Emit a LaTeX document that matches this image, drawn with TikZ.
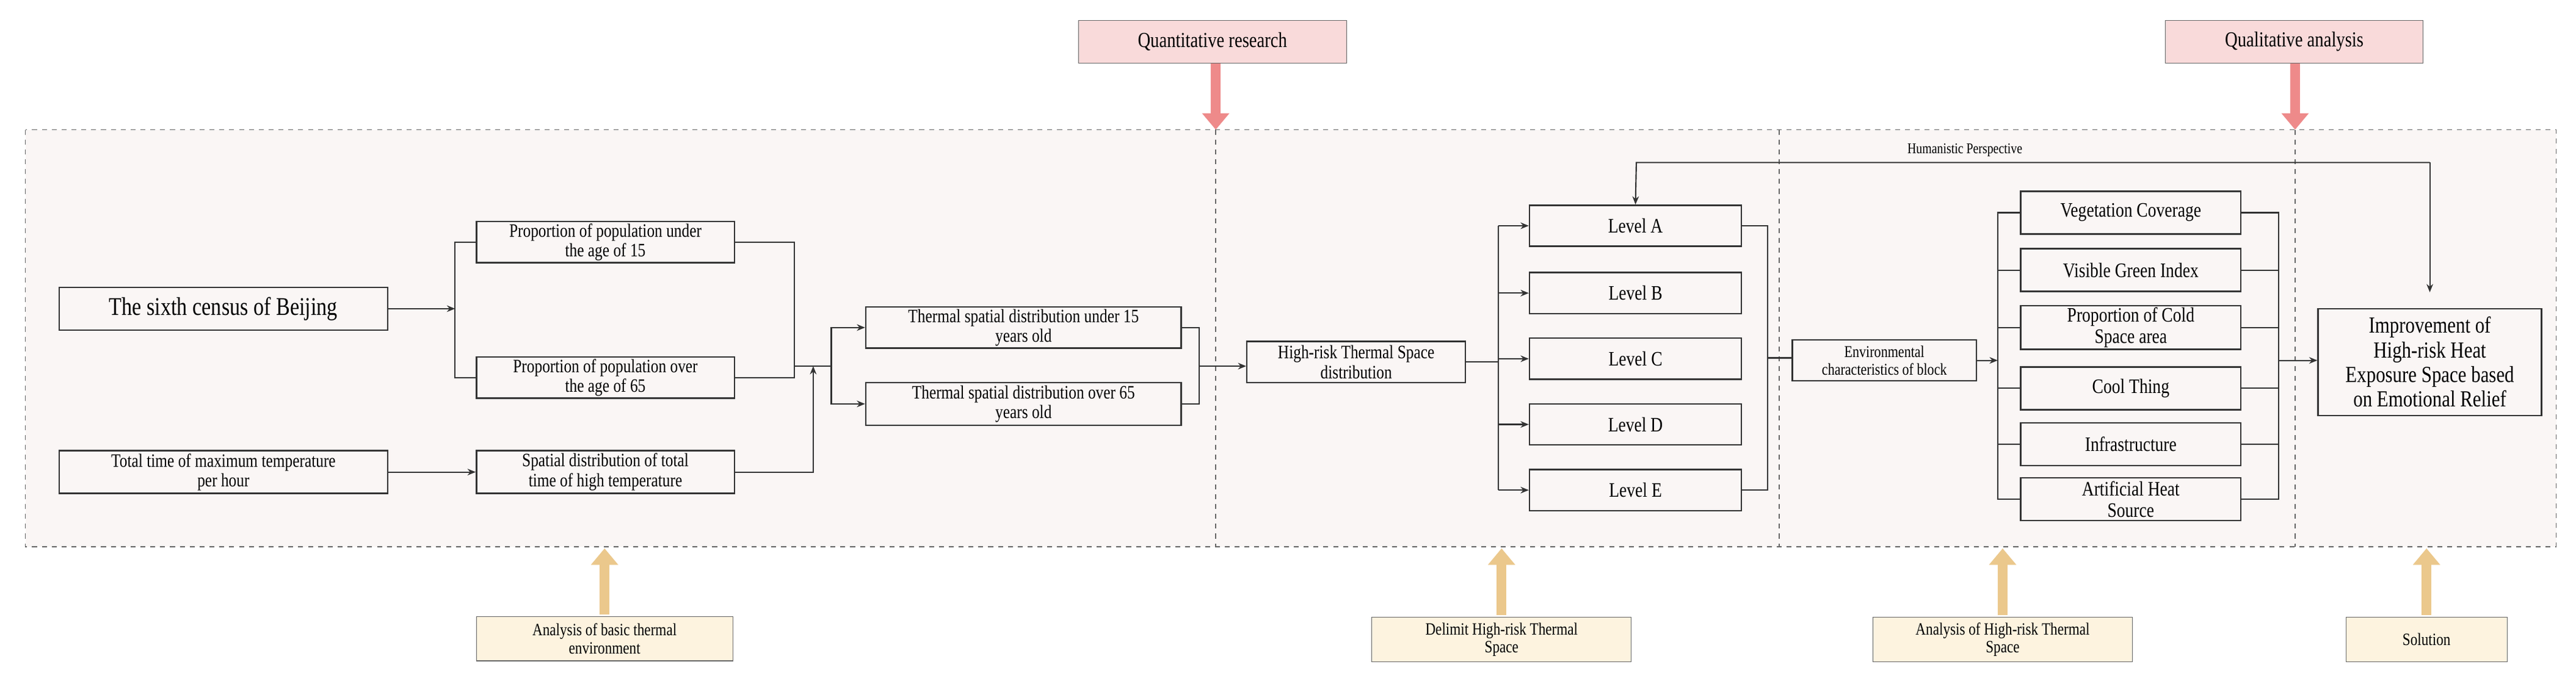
\documentclass[tikz,border=0pt]{standalone}
\usepackage{fontspec}
\setmainfont{Liberation Serif}[FakeStretch=0.82]
\usetikzlibrary{arrows.meta}
\definecolor{bgp}{HTML}{FAF6F5}
\definecolor{pinkf}{HTML}{F9DADA}
\definecolor{pinka}{HTML}{EE8A8A}
\definecolor{creamf}{HTML}{FDF3DF}
\definecolor{yella}{HTML}{EBC88C}
\begin{document}
\begin{tikzpicture}[x=1pt,y=-1pt,
  box/.style={draw=black!80,line width=0.9pt,fill=bgp,align=center,inner sep=1pt,font=\fontsize{11.5}{12}\selectfont},
  ln/.style={draw=black!80,line width=0.8pt},
  arr/.style={ln,-{Stealth[length=5pt,width=4pt]}},
  top/.style={draw=black!60,fill=pinkf,font=\fontsize{13}{14}\selectfont,inner sep=0pt},
  bot/.style={draw=black!60,fill=creamf,font=\fontsize{10.5}{11}\selectfont,align=center,inner sep=0pt},
  pa/.style={line width=6pt,draw=pinka,-{Triangle[length=10pt,width=16pt]}},
  ya/.style={line width=6pt,draw=yella,-{Triangle[length=10pt,width=16pt]}},
  dsh/.style={draw=black!60,dashed,line width=0.5pt}]
\useasboundingbox (0,0) rectangle (1568,414.4);
\fill[white] (0,0) rectangle (1568,414.4);
% outer frame
\fill[bgp] (15.5,79) rectangle (1556,333);
\draw[dsh] (15.5,79) rectangle (1556,333);
\foreach \x in {740,1083,1397} \draw[dsh] (\x,79) -- (\x,333);
% top boxes
\node[top,minimum width=163pt,minimum height=26pt] (qr) at (738,25.5) {Quantitative research};
\node[top,minimum width=157pt,minimum height=26pt] (qa) at (1396.5,25.5) {Qualitative analysis};
\coordinate (qrt) at (740,79);
\coordinate (qat) at (1397,79);
\draw[pa] (740,38.5) -- (qrt);
\draw[pa] (1397,38.5) -- (qat);
% bottom boxes
\node[bot,minimum width=156pt,minimum height=27pt] (b1) at (368,389) {Analysis of basic thermal\\environment};
\node[bot,minimum width=158pt,minimum height=27pt] (b2) at (914,389.5) {Delimit High-risk Thermal\\Space};
\node[bot,minimum width=158pt,minimum height=27pt] (b3) at (1219,389.5) {Analysis of High-risk Thermal\\Space};
\node[bot,minimum width=98pt,minimum height=27pt] (b4) at (1477,389.5) {Solution};
\draw[ya] (b1.north) ++(0,-1) -- (368,334);
\draw[ya] (b2.north) ++(0,-1) -- (914,334);
\draw[ya] (b3.north) ++(0,-1) -- (1219,334);
\draw[ya] (b4.north) ++(0,-1) -- (1477,334);
% left group
\node[box,minimum width=200pt,minimum height=26pt,font=\fontsize{15.5}{16}\selectfont] (cen) at (136,188) {The sixth census of Beijing};
\node[box,minimum width=200pt,minimum height=26pt] (tot) at (136,287.5) {Total time of maximum temperature\\per hour};
\node[box,minimum width=157pt,minimum height=25pt] (pu) at (368.5,147.5) {Proportion of population under\\the age of 15};
\node[box,minimum width=157pt,minimum height=25pt] (po) at (368.5,230) {Proportion of population over\\the age of 65};
\node[box,minimum width=157pt,minimum height=26pt] (sd) at (368.5,287.5) {Spatial distribution of total\\time of high temperature};
\node[box,minimum width=192pt,minimum height=25pt] (tu) at (623,199.5) {Thermal spatial distribution under 15\\years old};
\node[box,minimum width=192pt,minimum height=26pt] (to) at (623,246) {Thermal spatial distribution over 65\\years old};
\coordinate (j1) at (277,188);
\draw[arr] (cen.east) -- (j1);
\draw[ln] (pu.west) -| (j1) |- (po.west);
\coordinate (j2) at (483.5,223);
\coordinate (j3) at (506,223);
\draw[ln] (pu.east) -| (j2);
\draw[ln] (po.east) -| (j2) -- (j3);
\coordinate (j4) at (495,223);
\draw[arr] (tot.east) -- (sd.west);
\draw[arr] (sd.east) -| (j4);
\draw[arr] (j3) |- (tu.west);
\draw[arr] (j3) |- (to.west);
\coordinate (j5) at (730,223);
\draw[ln] (tu.east) -| (j5) |- (to.east);
% middle
\node[box,minimum width=133pt,minimum height=25pt] (hr) at (825.5,220.5) {High-risk Thermal Space\\distribution};
\draw[arr] (j5) -- (hr.west |- j5);
\foreach \n/\l/\y in {la/A/137.5,lb/B/178.5,lc/C/218.5,ld/D/258.5,le/E/298.5}
  \node[box,minimum width=129pt,minimum height=25pt,font=\fontsize{12.5}{13}\selectfont] (\n) at (995.5,\y) {Level \l};
\coordinate (j6) at (912,220.5);
\draw[ln] (hr.east) -- (j6);
\foreach \n in {la,lb,lc,ld,le} \draw[arr] (j6 |- \n.west) -- (\n.west);
\draw[ln] (j6 |- la.west) -- (j6 |- le.west);
\coordinate (j7) at (1076,218);
\draw[ln] (la.east) -| (j7) |- (le.east);
\node[box,minimum width=112pt,minimum height=25pt,font=\fontsize{10}{11}\selectfont] (env) at (1147,219.5) {Environmental\\characteristics of block};
\draw[ln] (j7) -- (env.west |- j7);
\coordinate (j8) at (1216,219.5);
\draw[arr] (env.east) -- (j8);
\foreach \n/\t/\y in {f1/{Vegetation Coverage}/129.5,f2/{Visible Green Index}/164.5,f3/{Proportion of Cold\\Space area}/199.5,f4/{Cool Thing}/236.5,f5/{Infrastructure}/270.5,f6/{Artificial Heat\\Source}/304}
  \node[box,minimum width=134pt,minimum height=26pt,font=\fontsize{12.5}{13}\selectfont] (\n) at (1297,\y) {\t};
\draw[ln] (f1.west) -| (j8) |- (f6.west);
\foreach \n in {f2,f3,f4,f5} \draw[ln] (j8 |- \n.west) -- (\n.west);
\coordinate (j9) at (1387,219.5);
\draw[ln] (f1.east) -| (j9) |- (f6.east);
\foreach \n in {f2,f3,f4,f5} \draw[ln] (\n.east) -- (j9 |- \n.east);
\node[box,minimum width=136pt,minimum height=65pt,font=\fontsize{14}{15}\selectfont] (imp) at (1479,220.5) {Improvement of\\High-risk Heat\\Exposure Space based\\on Emotional Relief};
\draw[arr] (j9) -- (imp.west |- j9);
% humanistic
\coordinate (h1) at (996,99);
\coordinate (h2) at (1479,99);
\draw[arr] (h2) -- (h1) -- (la.north);
\draw[arr] (h2) -- (1479,178);
\node[font=\fontsize{9}{10}\selectfont] (hp) at (1196,91.5) {Humanistic Perspective};
\end{tikzpicture}
\end{document}
